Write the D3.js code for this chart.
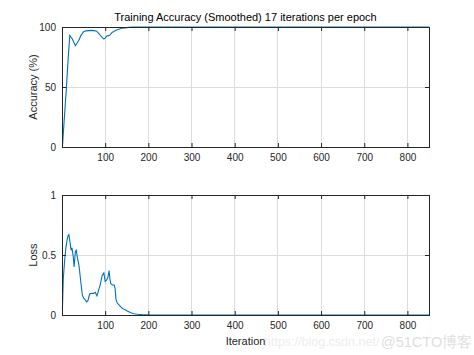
<!DOCTYPE html>
<html><head><meta charset="utf-8">
<script src="https://cdn.jsdelivr.net/npm/d3@7"></script>
<style>body{margin:0;background:#fff}text{font-family:"Liberation Sans",Arial,sans-serif}</style>
</head><body><svg id="c" width="474" height="355"></svg>
<script>
const accIter = [1, 5, 10, 14, 18, 21, 24, 27, 31, 34, 39, 44, 50, 56, 62, 68, 74, 80, 85, 90, 94, 97, 100, 104, 108, 112, 116, 120, 124, 128, 133, 139, 146, 155, 165, 180, 200, 850];
const accVal  = [0, 22, 48, 72, 93, 91.5, 90, 87.5, 84.5, 86, 89, 93, 96, 96.8, 97, 97.2, 97, 96.5, 94.7, 92.5, 91, 90, 91, 92.5, 92.8, 93.6, 95.5, 96.2, 97, 97.8, 98.4, 98.9, 99.3, 99.7, 99.9, 100, 100, 100];
const lossIter = [1, 3, 6, 9, 12, 14, 16, 18, 21, 23, 26, 28, 31, 33, 36, 39, 41, 44, 47, 50, 53, 57, 60, 64, 69, 73, 77, 81, 85, 89, 93, 97, 100, 103, 106, 109, 111, 113, 117, 121, 123, 125, 128, 133, 138, 145, 150, 158, 166, 175, 185, 200, 850];
const lossVal  = [0.05, 0.3, 0.45, 0.56, 0.63, 0.66, 0.67, 0.62, 0.54, 0.56, 0.49, 0.40, 0.53, 0.54, 0.47, 0.42, 0.36, 0.26, 0.17, 0.14, 0.13, 0.11, 0.12, 0.175, 0.18, 0.18, 0.19, 0.16, 0.21, 0.26, 0.33, 0.35, 0.28, 0.29, 0.31, 0.37, 0.3, 0.26, 0.25, 0.25, 0.22, 0.13, 0.1, 0.08, 0.06, 0.045, 0.035, 0.02, 0.01, 0.006, 0.003, 0.001, 0.0005];
const xTicks = [100, 200, 300, 400, 500, 600, 700, 800];
const accTicks = [0, 50, 100];
const lossTicks = [0, 0.5, 1];

const svg = d3.select("#c");
const L = 62, R = 429;
const x = d3.scaleLinear().domain([0, 850]).range([L, R]);
const ink = "#262626", grid = "#dcdcdc", blue = "#0072BD";

function panel(top, bottom, yDom, yTicks, iters, vals, ylabel, yfmt) {
  const y = d3.scaleLinear().domain(yDom).range([bottom, top]);
  const g = svg.append("g");
  g.selectAll(".gx").data(xTicks).enter().append("line")
    .attr("x1", d => x(d)).attr("x2", d => x(d)).attr("y1", top).attr("y2", bottom)
    .attr("stroke", grid).attr("stroke-width", 1).attr("shape-rendering", "crispEdges");
  g.selectAll(".gy").data(yTicks).enter().append("line")
    .attr("x1", L).attr("x2", R).attr("y1", d => y(d)).attr("y2", d => y(d))
    .attr("stroke", grid).attr("stroke-width", 1).attr("shape-rendering", "crispEdges");
  const pts = iters.map((it, i) => [it, vals[i]]);
  g.append("path").datum(pts)
    .attr("d", d3.line().x(d => x(d[0])).y(d => y(d[1])))
    .attr("fill", "none").attr("stroke", blue).attr("stroke-width", 1.1);
  const ax = [
    d3.axisBottom(x).tickValues(xTicks).tickSizeInner(-4).tickSizeOuter(0).tickPadding(7),
    d3.axisTop(x).tickValues(xTicks).tickSizeInner(-4).tickSizeOuter(0).tickFormat(""),
    d3.axisLeft(y).tickValues(yTicks).tickSizeInner(-4).tickSizeOuter(0).tickPadding(6).tickFormat(yfmt),
    d3.axisRight(y).tickValues(yTicks).tickSizeInner(-4).tickSizeOuter(0).tickFormat("")
  ];
  const pos = [`translate(0,${bottom})`, `translate(0,${top})`, `translate(${L},0)`, `translate(${R},0)`];
  ax.forEach((a, i) => {
    const ag = g.append("g").attr("transform", pos[i]).call(a);
    ag.select(".domain").remove();
    ag.selectAll("line").attr("stroke", ink);
    ag.selectAll("text").attr("fill", ink).attr("font-size", 10).attr("font-family", '"Liberation Sans",Arial,sans-serif');
  });
  g.append("rect").attr("x", L).attr("y", top).attr("width", R - L).attr("height", bottom - top)
    .attr("fill", "none").attr("stroke", ink).attr("stroke-width", 1).attr("shape-rendering", "crispEdges");
  g.append("text").attr("transform", `translate(37,${(top + bottom) / 2}) rotate(-90)`)
    .attr("text-anchor", "middle").attr("font-size", 11).attr("fill", ink).text(ylabel);
  return y;
}

panel(27, 147, [0, 100], accTicks, accIter, accVal, "Accuracy (%)", d3.format("d"));
panel(195, 315, [0, 1], lossTicks, lossIter, lossVal, "Loss", d => d === 0.5 ? "0.5" : d3.format("d")(d));

svg.append("text").attr("x", (L + R) / 2).attr("y", 21).attr("text-anchor", "middle")
  .attr("font-size", 11).attr("fill", "#000").text("Training Accuracy (Smoothed) 17 iterations per epoch");
svg.append("text").attr("x", 264).attr("y", 346).attr("font-size", 12.5).attr("fill", "#ededed").text("https://blog.csdn.net/");
svg.append("text").attr("x", (L + R) / 2).attr("y", 345).attr("text-anchor", "middle")
  .attr("font-size", 11).attr("fill", ink).text("Iteration");
svg.append("text").attr("x", 381).attr("y", 347).attr("font-size", 14.5).attr("fill", "#dedede")
  .attr("font-family", '"Noto Sans CJK SC",sans-serif').text("@51CTO博客");
</script></body></html>
